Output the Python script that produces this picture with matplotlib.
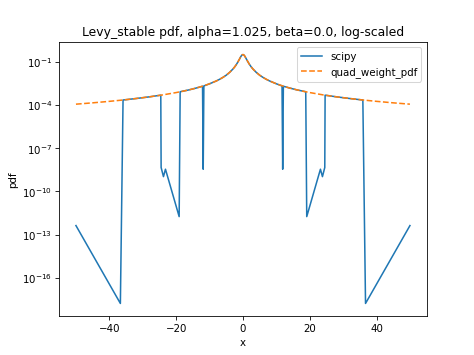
import numpy as np
import matplotlib
matplotlib.use("Agg")
import matplotlib.pyplot as plt
from matplotlib.ticker import NullLocator

# quad_weight_pdf values, x >= 0 half; curve is symmetric
pdf_x_half = [0, 0.25, 0.5, 0.75, 1, 1.5, 2, 2.5, 3, 4, 5, 6, 7, 8, 10, 12, 14,
              16, 18, 20, 24, 28, 32, 36, 40, 45, 50]
pdf_y_half = [3.15e-1, 2.99e-1, 2.54e-1, 2.04e-1, 1.58e-1, 9.77e-2, 6.27e-2,
              4.32e-2, 3.13e-2, 1.82e-2, 1.17e-2, 8.22e-3, 6.05e-3, 4.62e-3,
              2.96e-3, 2.05e-3, 1.50e-3, 1.14e-3, 9.00e-4, 7.28e-4, 5.02e-4,
              3.68e-4, 2.81e-4, 2.21e-4, 1.79e-4, 1.41e-4, 1.14e-4]

# scipy curve vertices, x <= 0 half; mirrored for x > 0
scipy_x_half = [-50, -36.7, -35.9, -32, -28, -24.6, -24.5, -23.8, -23.2,
                -19.1, -18.8, -16, -14, -12.1, -11.9, -11.7, -10, -8, -7, -6,
                -5, -4, -3, -2.5, -2, -1.5, -1, -0.75, -0.5, -0.25, 0]
scipy_y_half = [4.3e-13, 1.7e-18, 2.22e-4, 2.81e-4, 3.68e-4, 4.8e-4,
                4.6e-9, 1.07e-9, 3.5e-9, 1.8e-12, 8.3e-4, 1.14e-3, 1.50e-3,
                2.00e-3, 3.5e-9, 2.10e-3, 2.96e-3, 4.62e-3, 6.05e-3, 8.22e-3,
                1.17e-2, 1.82e-2, 3.13e-2, 4.32e-2, 6.27e-2, 9.77e-2, 1.58e-1,
                2.04e-1, 2.54e-1, 2.99e-1, 3.15e-1]

pdf_x = [-v for v in pdf_x_half[:0:-1]] + pdf_x_half
pdf_y = pdf_y_half[:0:-1] + pdf_y_half
scipy_x = scipy_x_half + [-v for v in scipy_x_half[-2::-1]]
scipy_y = scipy_y_half + scipy_y_half[-2::-1]

fig, ax = plt.subplots(figsize=(6.4, 4.8), dpi=74.07)
ax.plot(scipy_x, scipy_y, color="C0", label="scipy")
ax.plot(pdf_x, pdf_y, "--", color="C1", label="quad_weight_pdf")
ax.set_yscale("log")
ax.set_yticks([1e-16, 1e-13, 1e-10, 1e-7, 1e-4, 1e-1])
ax.yaxis.set_minor_locator(NullLocator())
ax.set_xticks([-40, -20, 0, 20, 40])
ax.set_title("Levy_stable pdf, alpha=1.025, beta=0.0, log-scaled")
ax.set_xlabel("x")
ax.set_ylabel("pdf")
ax.legend(loc="upper right")
fig.savefig("out.png", dpi=74.07)
